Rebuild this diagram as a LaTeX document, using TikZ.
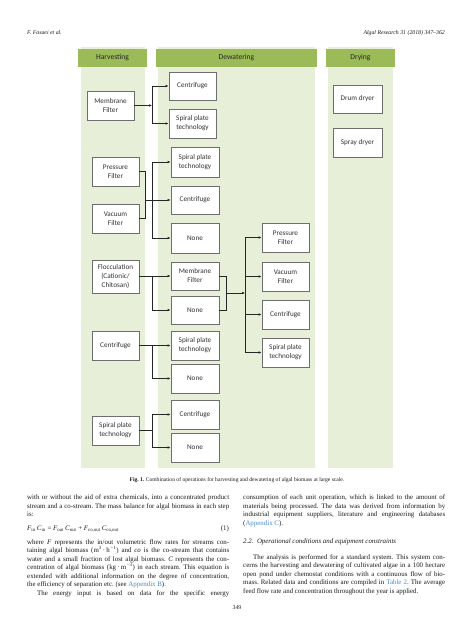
\documentclass[tikz,border=0pt]{standalone}
\usepackage{fontspec}
\setmainfont{Liberation Serif}
\newfontfamily\figfont{Carlito}
\usetikzlibrary{arrows.meta}
\definecolor{hdrgreen}{HTML}{9BBB59}
\definecolor{colbg}{HTML}{E8EFD9}
\definecolor{boxline}{HTML}{6E6E6E}
\definecolor{linkblue}{HTML}{4A8BC9}
\definecolor{txt}{HTML}{1A1A1A}
\frenchspacing
\begin{document}
\begin{tikzpicture}[x=1pt,y=-1pt,
  bx/.style={draw=boxline, line width=0.9pt, fill=white, align=center,
    font=\figfont\fontsize{7.2}{9}\selectfont, text=black!80, inner sep=0pt,
    minimum width=47pt, minimum height=29pt},
  hdr/.style={fill=hdrgreen, font=\figfont\fontsize{7.6}{9}\selectfont,
    text=black!85, inner sep=0pt, minimum height=18pt},
  con/.style={draw=black!85, line width=0.55pt},
  arr/.style={con, -{Latex[length=3pt,width=2.6pt]}},
  bt/.style={anchor=base west, inner sep=0pt, font=\fontsize{6.9}{8.6}\selectfont, text=txt},
  btr/.style={anchor=base east, inner sep=0pt, font=\fontsize{6.9}{8.6}\selectfont, text=txt},
  hd/.style={inner sep=0pt, font=\fontsize{5.8}{7}\selectfont\itshape, text=txt},
]
\useasboundingbox (0,0) rectangle (474,632);
\fill[white] (0,0) rectangle (474,632);

% running head
\node[hd, anchor=base west] (rhl) at (27,34) {F. Fasaei et al.};
\node[hd, anchor=base east] (rhr) at (445,34) {Algal Research 31 (2018) 347--362};

% columns
\fill[colbg] (81,47) rectangle (145,468);
\fill[colbg] (158,47) rectangle (315,468);
\fill[colbg] (328,47) rectangle (393,468);

% headers
\node[hdr, minimum width=69pt] (hh) at (112.5,58) {Harvesting};
\node[hdr, minimum width=161pt] (hw) at (236.5,58) {Dewatering};
\node[hdr, minimum width=69pt] (hy) at (360.5,58) {Drying};

% harvesting boxes
\node[bx] (h1) at (110.5,105.5) {Membrane\\Filter};
\node[bx] (h2) at (115.5,171.5) {Pressure\\Filter};
\node[bx] (h3) at (115.5,218.5) {Vacuum\\Filter};
\node[bx, minimum height=33pt] (h4) at (115.5,276.5) {Flocculation\\(Cationic/\\Chitosan)};
\node[bx] (h5) at (115.5,345.5) {Centrifuge};
\node[bx] (h6) at (115.5,430.5) {Spiral plate\\technology};

% dewatering column A
\node[bx, minimum height=28pt] (d1) at (192.5,86) {Centrifuge};
\node[bx] (d2) at (192.5,123.5) {Spiral plate\\technology};
\node[bx, minimum width=48pt, minimum height=30pt] (d3) at (195,162) {Spiral plate\\technology};
\node[bx, minimum width=48pt, minimum height=28pt] (d4) at (195,200) {Centrifuge};
\node[bx, minimum width=48pt, minimum height=30pt] (d5) at (195,238) {None};
\node[bx, minimum width=48pt, minimum height=28pt] (d6) at (195,276) {Membrane\\Filter};
\node[bx, minimum width=48pt, minimum height=28pt] (d7) at (195,310) {None};
\node[bx, minimum width=48pt] (d8) at (195,345.5) {Spiral plate\\technology};
\node[bx, minimum width=48pt] (d9) at (195,378.5) {None};
\node[bx, minimum width=48pt] (d10) at (195,414.5) {Centrifuge};
\node[bx, minimum width=48pt] (d11) at (195,447.5) {None};

% dewatering column B
\node[bx] (e1) at (285.5,237.5) {Pressure\\Filter};
\node[bx] (e2) at (285.5,276.5) {Vacuum\\Filter};
\node[bx] (e3) at (285.5,314.5) {Centrifuge};
\node[bx] (e4) at (285.5,352.5) {Spiral plate\\technology};

% drying
\node[bx, minimum width=49pt, minimum height=28pt] (f1) at (357.5,99) {Drum dryer};
\node[bx, minimum width=49pt] (f2) at (357.5,142.5) {Spray dryer};

% connectors
\coordinate (j1) at (152,105.5);
\draw[arr] (h1.east) -- (j1);
\draw[arr] (j1) |- (d1.west);
\draw[arr] (j1) |- (d2.west);

\coordinate (j2) at (145,200);
\draw[con] (h2.east) -| (j2);
\draw[con] (h3.east) -| (j2);
\draw[arr] (j2) -- (d4.west);
\coordinate (j3a) at (152,162);
\coordinate (j3b) at (152,238);
\draw[con] (j3a) -- (j3b);
\draw[arr] (j3a) -- (d3.west);
\draw[arr] (j3b) -- (d5.west);

\coordinate (j4) at (152,276);
\draw[arr] (h4.east |- d6.west) -- (d6.west);
\draw[arr] (j4) |- (d7.west);

\coordinate (j5) at (226,293);
\coordinate (j6) at (245,293);
\draw[con] (d6.east) -| (j5);
\draw[con] (d7.east) -| (j5);
\draw[arr] (j5) -- (j6);
\draw[con] (e1.west -| j6) -- (e4.west -| j6);
\draw[arr] (e1.west -| j6) -- (e1.west);
\draw[arr] (e2.west -| j6) -- (e2.west);
\draw[arr] (e3.west -| j6) -- (e3.west);
\draw[arr] (e4.west -| j6) -- (e4.west);

\coordinate (j7) at (152,345.5);
\draw[arr] (h5.east) -- (d8.west);
\draw[arr] (j7) |- (d9.west);

\coordinate (j8) at (152,430.5);
\draw[con] (h6.east) -- (j8);
\draw[arr] (j8) |- (d10.west);
\draw[arr] (j8) |- (d11.west);

% caption
\node[inner sep=0pt, font=\fontsize{5.6}{7}\selectfont, text=txt] (cap) at (237,480.5)
  {\textbf{Fig. 1.} Combination of operations for harvesting and dewatering of algal biomass at large scale.};

% left column text
\node[bt] (l1) at (27,499.7) {\makebox[202pt][s]{with or without the aid of extra chemicals, into a concentrated product}};
\node[bt] (l2) at (27,508.2) {\makebox[202pt][s]{stream and a co-stream. The mass balance for algal biomass in each step}};
\node[bt] (l3) at (27,516.7) {is:};
\node[bt] (l4) at (27,530.7) {\textit{F}\textsubscript{in}\,\textit{C}\textsubscript{in} = \textit{F}\textsubscript{out}\,\textit{C}\textsubscript{out} + \textit{F}\textsubscript{co,out}\,\textit{C}\textsubscript{co,out}};
\node[btr] (l4n) at (229,530.7) {(1)};
\node[bt] (l5) at (27,544.2) {\makebox[202pt][s]{where \textit{F} represents the in/out volumetric flow rates for streams con-}};
\node[bt] (l6) at (27,552.7) {\makebox[202pt][s]{taining algal biomass (m\textsuperscript{3}\,·\,h\textsuperscript{\,−1}) and \textit{co} is the co-stream that contains}};
\node[bt] (l7) at (27,561.2) {\makebox[202pt][s]{water and a small fraction of lost algal biomass. \textit{C} represents the con-}};
\node[bt] (l8) at (27,569.7) {\makebox[202pt][s]{centration of algal biomass (kg\,·\,m\textsuperscript{\,−3}) in each stream. This equation is}};
\node[bt] (l9) at (27,578.2) {\makebox[202pt][s]{extended with additional information on the degree of concentration,}};
\node[bt] (l10) at (27,586.7) {the efficiency of separation etc. (see \textcolor{linkblue}{Appendix B}).};
\node[bt] (l11) at (37,595.2) {\makebox[192pt][s]{The energy input is based on data for the specific energy}};

% right column text
\node[bt] (r1) at (243,499.7) {\makebox[202pt][s]{consumption of each unit operation, which is linked to the amount of}};
\node[bt] (r2) at (243,508.2) {\makebox[202pt][s]{materials being processed. The data was derived from information by}};
\node[bt] (r3) at (243,516.7) {\makebox[202pt][s]{industrial equipment suppliers, literature and engineering databases}};
\node[bt] (r4) at (243,525.2) {(\textcolor{linkblue}{Appendix C}).};
\node[bt] (r5) at (243,543.7) {\textit{2.2.\enspace Operational conditions and equipment constraints}};
\node[bt] (r6) at (253,559.2) {\makebox[192pt][s]{The analysis is performed for a standard system. This system con-}};
\node[bt] (r7) at (243,567.7) {\makebox[202pt][s]{cerns the harvesting and dewatering of cultivated algae in a 100 hectare}};
\node[bt] (r8) at (243,576.2) {\makebox[202pt][s]{open pond under chemostat conditions with a continuous flow of bio-}};
\node[bt] (r9) at (243,584.7) {\makebox[202pt][s]{mass. Related data and conditions are compiled in \textcolor{linkblue}{Table 2}. The average}};
\node[bt] (r10) at (243,593.2) {feed flow rate and concentration throughout the year is applied.};

% page number
\node[inner sep=0pt, font=\fontsize{5.8}{7}\selectfont, text=txt] (pg) at (237,607.5) {349};
\end{tikzpicture}
\end{document}
